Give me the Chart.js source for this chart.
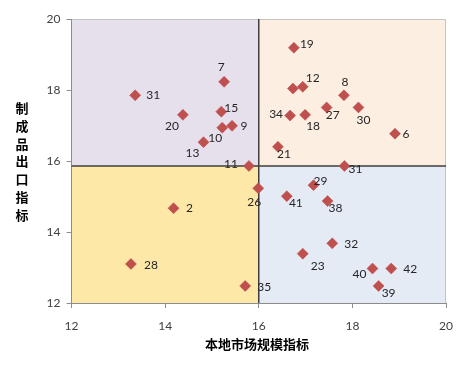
<!DOCTYPE html>
<html>
<head>
<meta charset="utf-8">
<script src="https://cdn.jsdelivr.net/npm/chart.js@4"></script>
<style>
  html, body { margin: 0; padding: 0; background: #fff; }
  #wrap { width: 474px; height: 365px; }
</style>
</head>
<body>
<div id="wrap"><canvas id="quadChart" width="474" height="365"></canvas></div>
<script>
// city labels, x = local market size index, y = manufactured export index
var names = ['31','7','20','15','9','10','13','11','19','','12','8','27','30','34','18','6','21','31','26','2','28','35','29','41','38','32','23','40','42','39'];
var marketIdx = [13.36,15.26,14.38,15.20,15.43,15.22,14.82,15.79,16.75,16.73,16.94,17.82,17.45,18.13,16.67,16.99,18.91,16.41,17.83,15.99,14.18,13.27,15.71,17.17,16.60,17.47,17.57,16.94,18.43,18.83,18.56];
var exportIdx = [17.85,18.23,17.30,17.39,16.99,16.94,16.53,15.86,19.19,18.04,18.09,17.85,17.51,17.51,17.28,17.30,16.77,16.40,15.86,15.23,14.67,13.10,12.48,15.32,15.01,14.87,13.68,13.39,12.97,12.97,12.48];
var xSplit = 16;
var ySplit = 15.86;
var xTitle = '本地市场规模指标';
var yTitle = '制成品出口指标';

// label offsets (px) from each point, same order as names
var labelOffsets = [[18,0],[-3,-15],[-11,11],[10,-4],[12,0],[-7,10],[-11,11],[-18,-2],[13,-4],[0,0],[10,-9],[1,-13],[6,8],[5,13],[-14,-1],[8,11],[11,0],[6,7],[11,3],[-4,14],[16,0],[20,1],[19,1],[7,-4],[9,7],[8,7],[19,1],[15,12],[-13,6],[19,1],[10,7]];

var points = marketIdx.map(function(v, i){ return {x: v, y: exportIdx[i]}; });

var quadrants = {
  id: 'quadrants',
  beforeDraw: function(chart){
    var ctx = chart.ctx, a = chart.chartArea;
    var sx = chart.scales.x.getPixelForValue(xSplit);
    var sy = chart.scales.y.getPixelForValue(ySplit);
    ctx.save();
    ctx.fillStyle = '#fff';
    ctx.fillRect(0, 0, chart.width, chart.height);
    ctx.fillStyle = '#E6E0EC';
    ctx.fillRect(a.left, a.top, sx - a.left, sy - a.top);
    ctx.fillStyle = '#FDEEE2';
    ctx.fillRect(sx, a.top, a.right - sx, sy - a.top);
    ctx.fillStyle = '#FDE8A8';
    ctx.fillRect(a.left, sy, sx - a.left, a.bottom - sy);
    ctx.fillStyle = '#E4EBF5';
    ctx.fillRect(sx, sy, a.right - sx, a.bottom - sy);
    ctx.strokeStyle = '#c4c4c4';
    ctx.lineWidth = 1;
    ctx.beginPath();
    ctx.moveTo(a.left, a.top + 0.5);
    ctx.lineTo(a.right - 0.5, a.top + 0.5);
    ctx.lineTo(a.right - 0.5, a.bottom);
    ctx.stroke();
    ctx.restore();
  },
  beforeDatasetsDraw: function(chart){
    var ctx = chart.ctx, a = chart.chartArea;
    var sx = chart.scales.x.getPixelForValue(xSplit);
    var sy = chart.scales.y.getPixelForValue(ySplit);
    ctx.save();
    ctx.strokeStyle = '#3f3f3f';
    ctx.lineWidth = 1.5;
    ctx.beginPath();
    ctx.moveTo(a.left, sy); ctx.lineTo(a.right, sy);
    ctx.moveTo(sx, a.top); ctx.lineTo(sx, a.bottom);
    ctx.stroke();
    ctx.restore();
  },
  afterDatasetsDraw: function(chart){
    var ctx = chart.ctx;
    var meta = chart.getDatasetMeta(0);
    ctx.save();
    ctx.fillStyle = '#262626';
    ctx.font = '12px Lato, "Liberation Sans", sans-serif';
    ctx.textAlign = 'center';
    ctx.textBaseline = 'middle';
    meta.data.forEach(function(pt, i){
      if (!names[i]) return;
      var o = labelOffsets[i];
      ctx.fillText(names[i], pt.x + o[0], pt.y + o[1]);
    });
    // axis titles
    ctx.fillStyle = '#000';
    ctx.font = 'bold 13px "Noto Sans CJK SC", sans-serif';
    ctx.fillText(xTitle, 257, 344);
    for (var k = 0; k < yTitle.length; k++) {
      ctx.fillText(yTitle.charAt(k), 22, 108 + k * 17.8);
    }
    ctx.restore();
  }
};

var ctx = document.getElementById('quadChart').getContext('2d');
var quadChart = new Chart(ctx, {
  type: 'scatter',
  data: {
    datasets: [{
      label: 'cities',
      data: points,
      pointStyle: 'rectRot',
      pointRadius: 5.5,
      pointHoverRadius: 5.5,
      backgroundColor: '#C0504D',
      borderColor: '#B8474A',
      borderWidth: 0.5
    }]
  },
  options: {
    responsive: false,
    animation: false,
    events: [],
    layout: { padding: { top: 19, right: 28, left: 0, bottom: 0 } },
    plugins: {
      legend: { display: false },
      tooltip: { enabled: false }
    },
    scales: {
      x: {
        type: 'linear',
        min: 12, max: 20,
        afterFit: function(s){ s.height = 62; },
        ticks: { stepSize: 2, padding: 11, color: '#404040', font: { family: 'Lato, "Liberation Sans", sans-serif', size: 12 } },
        grid: { drawOnChartArea: false, drawTicks: true, tickLength: 5, color: '#8c8c8c' },
        border: { color: '#8c8c8c', width: 1 }
      },
      y: {
        min: 12, max: 20,
        afterFit: function(s){ s.width = 71.5; },
        ticks: { stepSize: 2, padding: 6, color: '#404040', font: { family: 'Lato, "Liberation Sans", sans-serif', size: 12 } },
        grid: { drawOnChartArea: false, drawTicks: true, tickLength: 5, color: '#8c8c8c' },
        border: { color: '#8c8c8c', width: 1 }
      }
    }
  },
  plugins: [quadrants]
});
</script>
</body>
</html>
